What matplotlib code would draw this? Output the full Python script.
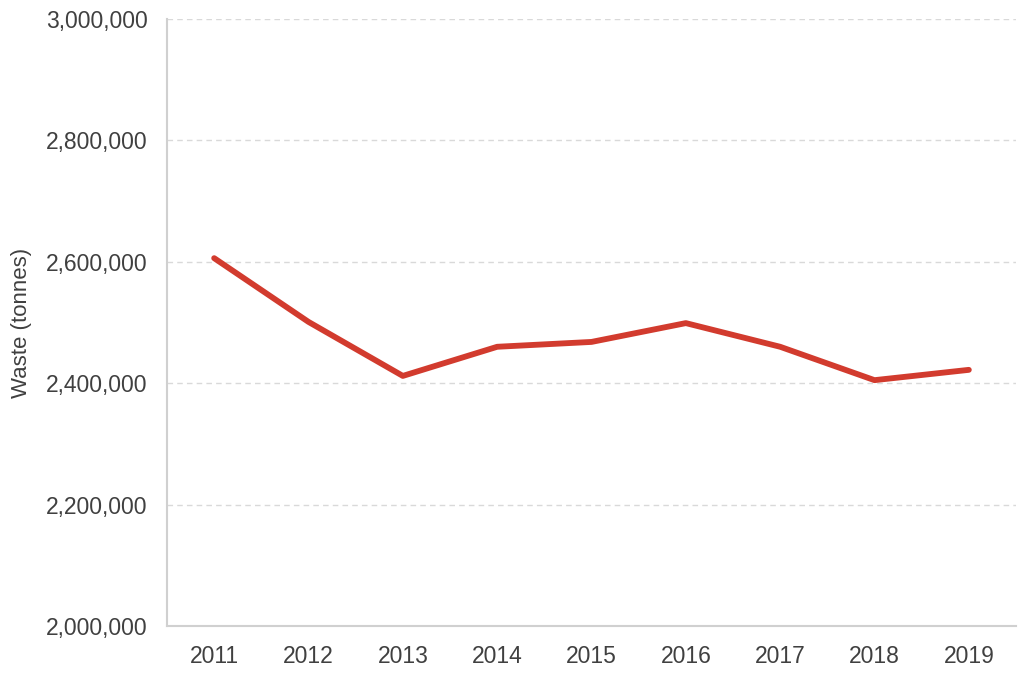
import matplotlib
matplotlib.use("Agg")
import matplotlib.pyplot as plt
from matplotlib.ticker import FuncFormatter

years = ["2011", "2012", "2013", "2014", "2015", "2016", "2017", "2018", "2019"]
waste = [2606000, 2501000, 2412000, 2460000, 2468000, 2499000, 2460000, 2405000, 2422000]
y_ticks = [2000000, 2200000, 2400000, 2600000, 2800000, 3000000]

plt.rcParams['font.family'] = ['Liberation Sans', 'DejaVu Sans']
text_color = "#404040"

fig = plt.figure(figsize=(10.32, 6.75), dpi=100)
ax = fig.add_axes([167/1032, 1-626/675, (1016-167)/1032, (626-19)/675])

x = list(range(len(years)))
ax.plot(x, waste, color="#D23B2E", linewidth=4.2, solid_capstyle="round", solid_joinstyle="round", zorder=3)

ax.set_xlim(-0.5, len(years) - 0.5)
ax.set_ylim(2000000, 3000000)
ax.set_xticks(x)
ax.set_xticklabels(years)
ax.set_yticks(y_ticks)
ax.yaxis.set_major_formatter(FuncFormatter(lambda v, p: f"{int(v):,}"))

ax.grid(axis="y", color="#d9d9d9", linestyle=(0, (4, 3)), linewidth=1)
ax.set_axisbelow(True)

for s in ["top", "right"]:
    ax.spines[s].set_visible(False)
for s in ["left", "bottom"]:
    ax.spines[s].set_color("#d0d0d0")
    ax.spines[s].set_linewidth(1.5)

ax.tick_params(axis="y", length=0, labelsize=16.5, colors=text_color, pad=14)
ax.tick_params(axis="x", length=0, labelsize=16.5, colors=text_color, pad=14)
ax.set_ylabel("Waste (tonnes)", fontsize=16, color=text_color, labelpad=10)

fig.savefig("out.png", dpi=100)
